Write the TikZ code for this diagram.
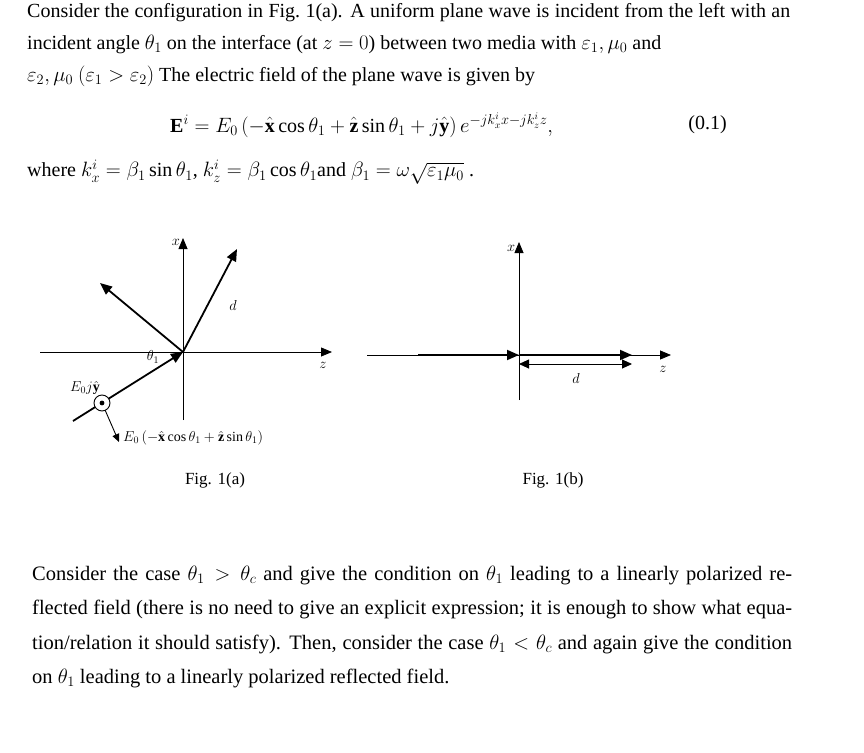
\documentclass[tikz,border=0pt]{standalone}
\usepackage{amsmath,amssymb,bm}
\usepackage{fontspec}
\setmainfont{Liberation Serif}
\usetikzlibrary{arrows.meta,calc}
\begin{document}
\begin{tikzpicture}[x=1pt,y=-1pt,
  para/.style={anchor=north west,inner sep=0,align=justify,font=\fontsize{20}{32}\selectfont},
  lbl/.style={inner sep=0,font=\fontsize{14}{16}\selectfont},
  axis/.style={line width=0.8pt,-{Triangle[length=11pt,width=9pt]}},
  wave/.style={line width=1.8pt,-{Triangle[length=12pt,width=10pt]}},
  figcap/.style={inner sep=0,font=\fontsize{17}{20}\selectfont}]
\useasboundingbox (0,0) rectangle (864,752);
\node[para,text width=763pt] (top) at (27,3) {Consider the configuration in Fig.~1(a). A uniform plane wave is incident from the left with an incident angle $\theta_1$ on the interface (at $z=0$) between two media with $\varepsilon_1,\mu_0$ and\\ $\varepsilon_2,\mu_0$ $(\varepsilon_1>\varepsilon_2)$ The electric field of the plane wave is given by};
\node[inner sep=0,anchor=west,font=\fontsize{20}{24}\selectfont] (eq) at (170,125) {$\mathbf{E}^i=E_0\left(-\hat{\mathbf{x}}\cos\theta_1+\hat{\mathbf{z}}\sin\theta_1+j\hat{\mathbf{y}}\right)e^{-jk_x^ix-jk_z^iz},$};
\node[inner sep=0,anchor=east,font=\fontsize{20}{24}\selectfont] (eqn) at (727,125) {(0.1)};
\node[inner sep=0,anchor=west,font=\fontsize{20}{24}\selectfont] (where) at (27,172) {where $k_x^i=\beta_1\sin\theta_1$, $k_z^i=\beta_1\cos\theta_1$and $\beta_1=\omega\sqrt{\varepsilon_1\mu_0}$ .};
% Fig 1(a)
\coordinate (O) at (183,352);
\coordinate (xa) at (183,238);
\coordinate (xb) at (183,420);
\coordinate (za) at (40,352);
\coordinate (zb) at (332,352);
\draw[line width=0.8pt] (xb) -- (O);
\draw[axis] (O) -- (xa);
\draw[axis] (za) -- (zb);
\coordinate (R) at (100,283);
\coordinate (T) at (237,249);
\coordinate (I) at (73,421);
\coordinate (C) at (102,403);
\coordinate (P) at (119,442);
\draw[wave] (O) -- (R);
\draw[wave] (O) -- (T);
\draw[wave] (I) -- (O);
\draw[line width=0.9pt,fill=white] (C) circle (8);
\fill (C) circle (2.4);
\draw[line width=0.9pt,-{Triangle[length=8pt,width=7pt]}] ($(C)!8pt!(P)$) -- (P);
\node[lbl] (xl) at (176,242) {$x$};
\node[lbl] (zl) at (323,365) {$z$};
\node[lbl] (dl) at (233,305) {$d$};
\node[lbl] (th) at (153,357) {$\theta_1$};
\node[lbl] (ey) at (85,388) {$E_0 j\hat{\mathbf{y}}$};
\node[lbl,anchor=west] (ep) at (123,438) {$E_0\left(-\hat{\mathbf{x}}\cos\theta_1+\hat{\mathbf{z}}\sin\theta_1\right)$};
\node[figcap] (fa) at (215,480) {Fig. 1(a)};
% Fig 1(b)
\coordinate (O2) at (519,355);
\coordinate (x2a) at (519,242);
\coordinate (x2b) at (519,400);
\coordinate (z2a) at (367,355);
\coordinate (z2b) at (671,355);
\coordinate (S2) at (418,355);
\coordinate (E2) at (632,355);
\coordinate (D1) at (519,364);
\coordinate (D2) at (632,364);
\draw[line width=0.8pt] (x2b) -- (O2);
\draw[axis] (O2) -- (x2a);
\draw[axis] (z2a) -- (z2b);
\draw[wave] (S2) -- (O2);
\draw[wave] (O2) -- (E2);
\draw[line width=0.9pt,{Triangle[length=10pt,width=9pt]}-{Triangle[length=10pt,width=9pt]}] (D1) -- (D2);
\node[lbl] (x2l) at (511,248) {$x$};
\node[lbl] (z2l) at (663,369) {$z$};
\node[lbl] (d2l) at (576,378) {$d$};
\node[figcap] (fb) at (553,480) {Fig. 1(b)};
% bottom
\node[para,text width=760pt,font=\fontsize{20.5}{34.2}\selectfont] (bot) at (32,566) {Consider the case $\theta_1>\theta_c$ and give the condition on $\theta_1$ leading to a linearly polarized reflected field (there is no need to give an explicit expression; it is enough to show what equation/relation it should satisfy). Then, consider the case $\theta_1<\theta_c$ and again give the condition on $\theta_1$ leading to a linearly polarized reflected field.};
\end{tikzpicture}
\end{document}
